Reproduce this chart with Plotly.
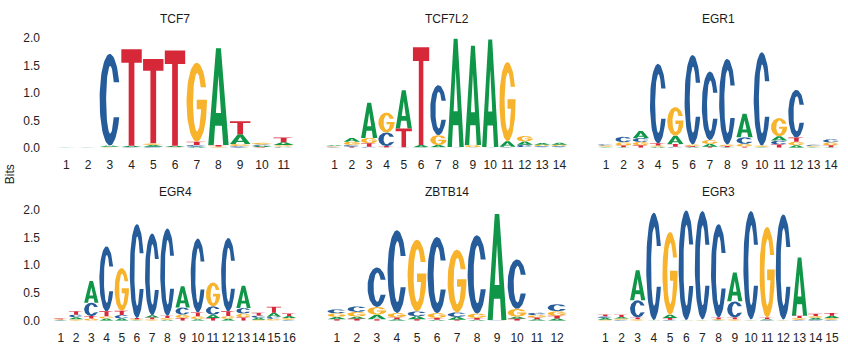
import math
import plotly.graph_objects as go

# ---------------- data (bits per base at each motif position) ----------------
MOTIFS = ["TCF7", "TCF7L2", "EGR1", "EGR4", "ZBTB14", "EGR3"]

TCF7_A = [0.003, 0.003, 0.02, 0.02, 0.03, 0.02, 0.02, 1.765, 0.175, 0.02, 0.05]
TCF7_C = [0.003, 0.003, 1.67, 0.01, 0.02, 0.005, 0.03, 0.005, 0.03, 0.025, 0.02]
TCF7_G = [0.003, 0.003, 0.01, 0.005, 0.03, 0.01, 1.44, 0.02, 0.04, 0.03, 0.03]
TCF7_T = [0.003, 0.003, 0.01, 1.76, 1.54, 1.736, 0.06, 0.025, 0.24, 0.015, 0.087]

TCF7L2_A = [0.015, 0.07, 0.64, 0.005, 0.70, 0.04, 0.04, 1.97, 1.81, 1.96, 0.10, 0.06, 0.03, 0.035]
TCF7L2_C = [0.01, 0.03, 0.02, 0.25, 0.005, 0.005, 0.91, 0.005, 0.005, 0.005, 0.01, 0.045, 0.02, 0.02]
TCF7L2_G = [0.01, 0.06, 0.10, 0.36, 0.005, 0.005, 0.18, 0.005, 0.04, 0.005, 1.44, 0.10, 0.025, 0.025]
TCF7L2_T = [0.01, 0.02, 0.06, 0.025, 0.34, 1.78, 0.01, 0.005, 0.005, 0.005, 0.01, 0.01, 0.01, 0.01]

EGR1_A = [0.01, 0.01, 0.13, 0.02, 0.15, 0.015, 0.05, 0.01, 0.43, 0.01, 0.08, 0.045, 0.01, 0.01]
EGR1_C = [0.025, 0.10, 0.07, 1.45, 0.02, 1.63, 1.25, 1.56, 0.12, 1.70, 0.07, 0.87, 0.02, 0.06]
EGR1_G = [0.02, 0.06, 0.06, 0.02, 0.52, 0.03, 0.07, 0.03, 0.05, 0.02, 0.33, 0.065, 0.015, 0.05]
EGR1_T = [0.01, 0.03, 0.045, 0.04, 0.05, 0.015, 0.02, 0.02, 0.02, 0.01, 0.06, 0.075, 0.01, 0.035]

EGR4_A = [0.01, 0.035, 0.39, 0.04, 0.04, 0.01, 0.04, 0.02, 0.38, 0.03, 0.06, 0.035, 0.40, 0.035, 0.07, 0.035]
EGR4_C = [0.005, 0.045, 0.24, 1.17, 0.065, 1.69, 1.47, 1.57, 0.13, 1.33, 0.15, 1.32, 0.10, 0.04, 0.04, 0.02]
EGR4_G = [0.01, 0.03, 0.04, 0.04, 0.77, 0.02, 0.03, 0.03, 0.06, 0.05, 0.43, 0.05, 0.07, 0.02, 0.035, 0.03]
EGR4_T = [0.015, 0.06, 0.045, 0.09, 0.075, 0.02, 0.03, 0.04, 0.05, 0.07, 0.05, 0.085, 0.06, 0.05, 0.11, 0.045]

ZBTB14_A = [0.04, 0.04, 0.08, 0.03, 0.05, 0.02, 0.05, 0.02, 1.91, 0.04, 0.03, 0.04]
ZBTB14_C = [0.07, 0.10, 0.71, 1.49, 0.09, 1.37, 0.08, 1.41, 0.005, 0.89, 0.045, 0.13]
ZBTB14_G = [0.065, 0.085, 0.14, 0.08, 1.29, 0.09, 1.13, 0.08, 0.005, 0.14, 0.04, 0.08]
ZBTB14_T = [0.03, 0.035, 0.03, 0.03, 0.03, 0.03, 0.02, 0.03, 0.005, 0.035, 0.03, 0.05]

EGR3_A = [0.03, 0.03, 0.54, 0.005, 0.06, 0.005, 0.005, 0.01, 0.52, 0.005, 0.02, 0.005, 1.05, 0.03, 0.04]
EGR3_C = [0.03, 0.02, 0.31, 1.93, 0.02, 1.97, 1.95, 1.68, 0.29, 1.95, 0.01, 1.89, 0.02, 0.025, 0.02]
EGR3_G = [0.02, 0.02, 0.03, 0.005, 1.49, 0.005, 0.01, 0.02, 0.03, 0.01, 1.63, 0.01, 0.03, 0.03, 0.03]
EGR3_T = [0.035, 0.04, 0.03, 0.005, 0.03, 0.005, 0.01, 0.03, 0.03, 0.01, 0.03, 0.01, 0.04, 0.04, 0.05]

DATA = {
    "TCF7": {"A": TCF7_A, "C": TCF7_C, "G": TCF7_G, "T": TCF7_T},
    "TCF7L2": {"A": TCF7L2_A, "C": TCF7L2_C, "G": TCF7L2_G, "T": TCF7L2_T},
    "EGR1": {"A": EGR1_A, "C": EGR1_C, "G": EGR1_G, "T": EGR1_T},
    "EGR4": {"A": EGR4_A, "C": EGR4_C, "G": EGR4_G, "T": EGR4_T},
    "ZBTB14": {"A": ZBTB14_A, "C": ZBTB14_C, "G": ZBTB14_G, "T": ZBTB14_T},
    "EGR3": {"A": EGR3_A, "C": EGR3_C, "G": EGR3_G, "T": EGR3_T},
}

Y_TICKS = [0, 0.5, 1.0, 1.5, 2.0]
Y_TICK_TEXT = ["0.0", "0.5", "1.0", "1.5", "2.0"]
Y_TITLE = "Bits"

COLORS = {"A": "#109648", "C": "#255C99", "G": "#F7B32B", "T": "#D62839"}

# ---------------- glyph outlines in a unit box ----------------
def _ell(cx, cy, rx, ry, a0, a1, n=60):
    pts = []
    for i in range(n + 1):
        a = math.radians(a0 + (a1 - a0) * i / n)
        pts.append((cx + rx * math.cos(a), cy + ry * math.sin(a)))
    return pts

ORX, ORY = 0.5, 0.5
IRX, IRY = 0.2, 0.37
CUT = 0.19
TH_O = math.degrees(math.asin(CUT / ORY))
TH_I = math.degrees(math.asin(CUT / IRY))

def glyph_C():
    outer = _ell(0.5, 0.5, ORX, ORY, TH_O, 360 - TH_O)
    inner = _ell(0.52, 0.5, IRX, IRY, 360 - TH_I, TH_I)
    return outer + inner

def glyph_G():
    outer = _ell(0.5, 0.5, ORX, ORY, TH_O, 360)
    ybar_lo = 0.41
    phi = math.degrees(math.asin((ybar_lo - 0.5) / IRY)) + 360
    bar = [(1.0, 0.5), (1.0, 0.53), (0.5, 0.53), (0.5, ybar_lo)]
    inner = _ell(0.52, 0.5, IRX, IRY, phi, TH_I)
    return outer + bar + inner

def glyph_T():
    return [(0, 1), (1, 1), (1, 0.86), (0.64, 0.86), (0.64, 0),
            (0.36, 0), (0.36, 0.86), (0, 0.86)]

def glyph_A():
    return [(0, 0), (0.27, 0), (0.334, 0.2), (0.666, 0.2), (0.73, 0), (1, 0),
            (0.62, 1), (0.5, 1), (0.5, 0.72), (0.625, 0.33), (0.375, 0.33),
            (0.5, 0.72), (0.5, 1), (0.38, 1)]

GLYPHS = {"A": glyph_A(), "C": glyph_C(), "G": glyph_G(), "T": glyph_T()}
LETTER_W = 0.94

# ---------------- layout geometry (pixels) ----------------
W, H = 848, 357
COL_PX = [(48, 302), (320, 574), (591.6, 845.6)]
ROW_PX = [(146.5, 32.3), (326.6, 211.0)]   # (y of 0 bits, y of 2 bits)
TITLE_Y = [12.5, 192.5]
EXPAND = 0.345

def fx(px):
    return px / W

def fy(py):
    return (H - py) / H

fig = go.Figure()
annotations = []
layout_axes = {}
FONT = "Liberation Sans, Arial, sans-serif"
tick_font = dict(size=12, color="#222222", family=FONT)

for k, name in enumerate(MOTIFS):
    r, c = divmod(k, 3)
    idx = "" if k == 0 else str(k + 1)
    d = DATA[name]
    n = len(d["A"])
    xs = {b: [] for b in "ACGT"}
    ys = {b: [] for b in "ACGT"}
    for i in range(n):
        pos = i + 1
        heights = sorted(((d[b][i], b) for b in "ACGT"), key=lambda t: t[0])
        base = 0.0
        for h, b in heights:
            x0 = pos - LETTER_W / 2
            for (u, v) in GLYPHS[b]:
                xs[b].append(x0 + u * LETTER_W)
                ys[b].append(base + v * h)
            xs[b].append(None)
            ys[b].append(None)
            base += h
    for b in "ACGT":
        fig.add_trace(go.Scatter(
            x=xs[b], y=ys[b], mode="lines", fill="toself",
            fillcolor=COLORS[b], line=dict(width=0, color=COLORS[b]),
            hoverinfo="skip", showlegend=False,
            xaxis="x" + idx, yaxis="y" + idx))

    x0p, x1p = COL_PX[c]
    y0p, y2p = ROW_PX[r]
    layout_axes["xaxis" + idx] = dict(
        domain=[fx(x0p), fx(x1p)], range=[0.5 - EXPAND, n + 0.5 + EXPAND],
        anchor="y" + idx, showgrid=False, zeroline=False, showline=False,
        tickmode="array", tickvals=list(range(1, n + 1)),
        ticktext=[str(p) for p in range(1, n + 1)], ticks="", tickangle=0,
        ticklabelstandoff=8, tickfont=tick_font, fixedrange=True)
    layout_axes["yaxis" + idx] = dict(
        domain=[fy(y0p), fy(y2p)], range=[0, 2.0],
        anchor="x" + idx, showgrid=False, zeroline=False, showline=False,
        tickmode="array", tickvals=Y_TICKS, ticktext=Y_TICK_TEXT, ticks="",
        showticklabels=(c == 0), ticklabelstandoff=7,
        tickfont=tick_font, fixedrange=True)
    annotations.append(dict(
        text=name, xref="paper", yref="paper",
        x=fx((x0p + x1p) / 2), y=fy(TITLE_Y[r]),
        xanchor="center", yanchor="middle", showarrow=False,
        font=dict(size=12, color="#1a1a1a", family=FONT)))

annotations.append(dict(
    text=Y_TITLE, xref="paper", yref="paper", x=fx(10), y=fy(174),
    xanchor="center", yanchor="middle", showarrow=False, textangle=-90,
    font=dict(size=12, color="#1a1a1a", family=FONT)))

fig.update_layout(
    width=W, height=H, margin=dict(l=0, r=0, t=0, b=0),
    paper_bgcolor="white", plot_bgcolor="white",
    annotations=annotations, **layout_axes)

fig.write_html("out.html", config={"displayModeBar": False},
               post_script="document.body.style.margin='0px';")
